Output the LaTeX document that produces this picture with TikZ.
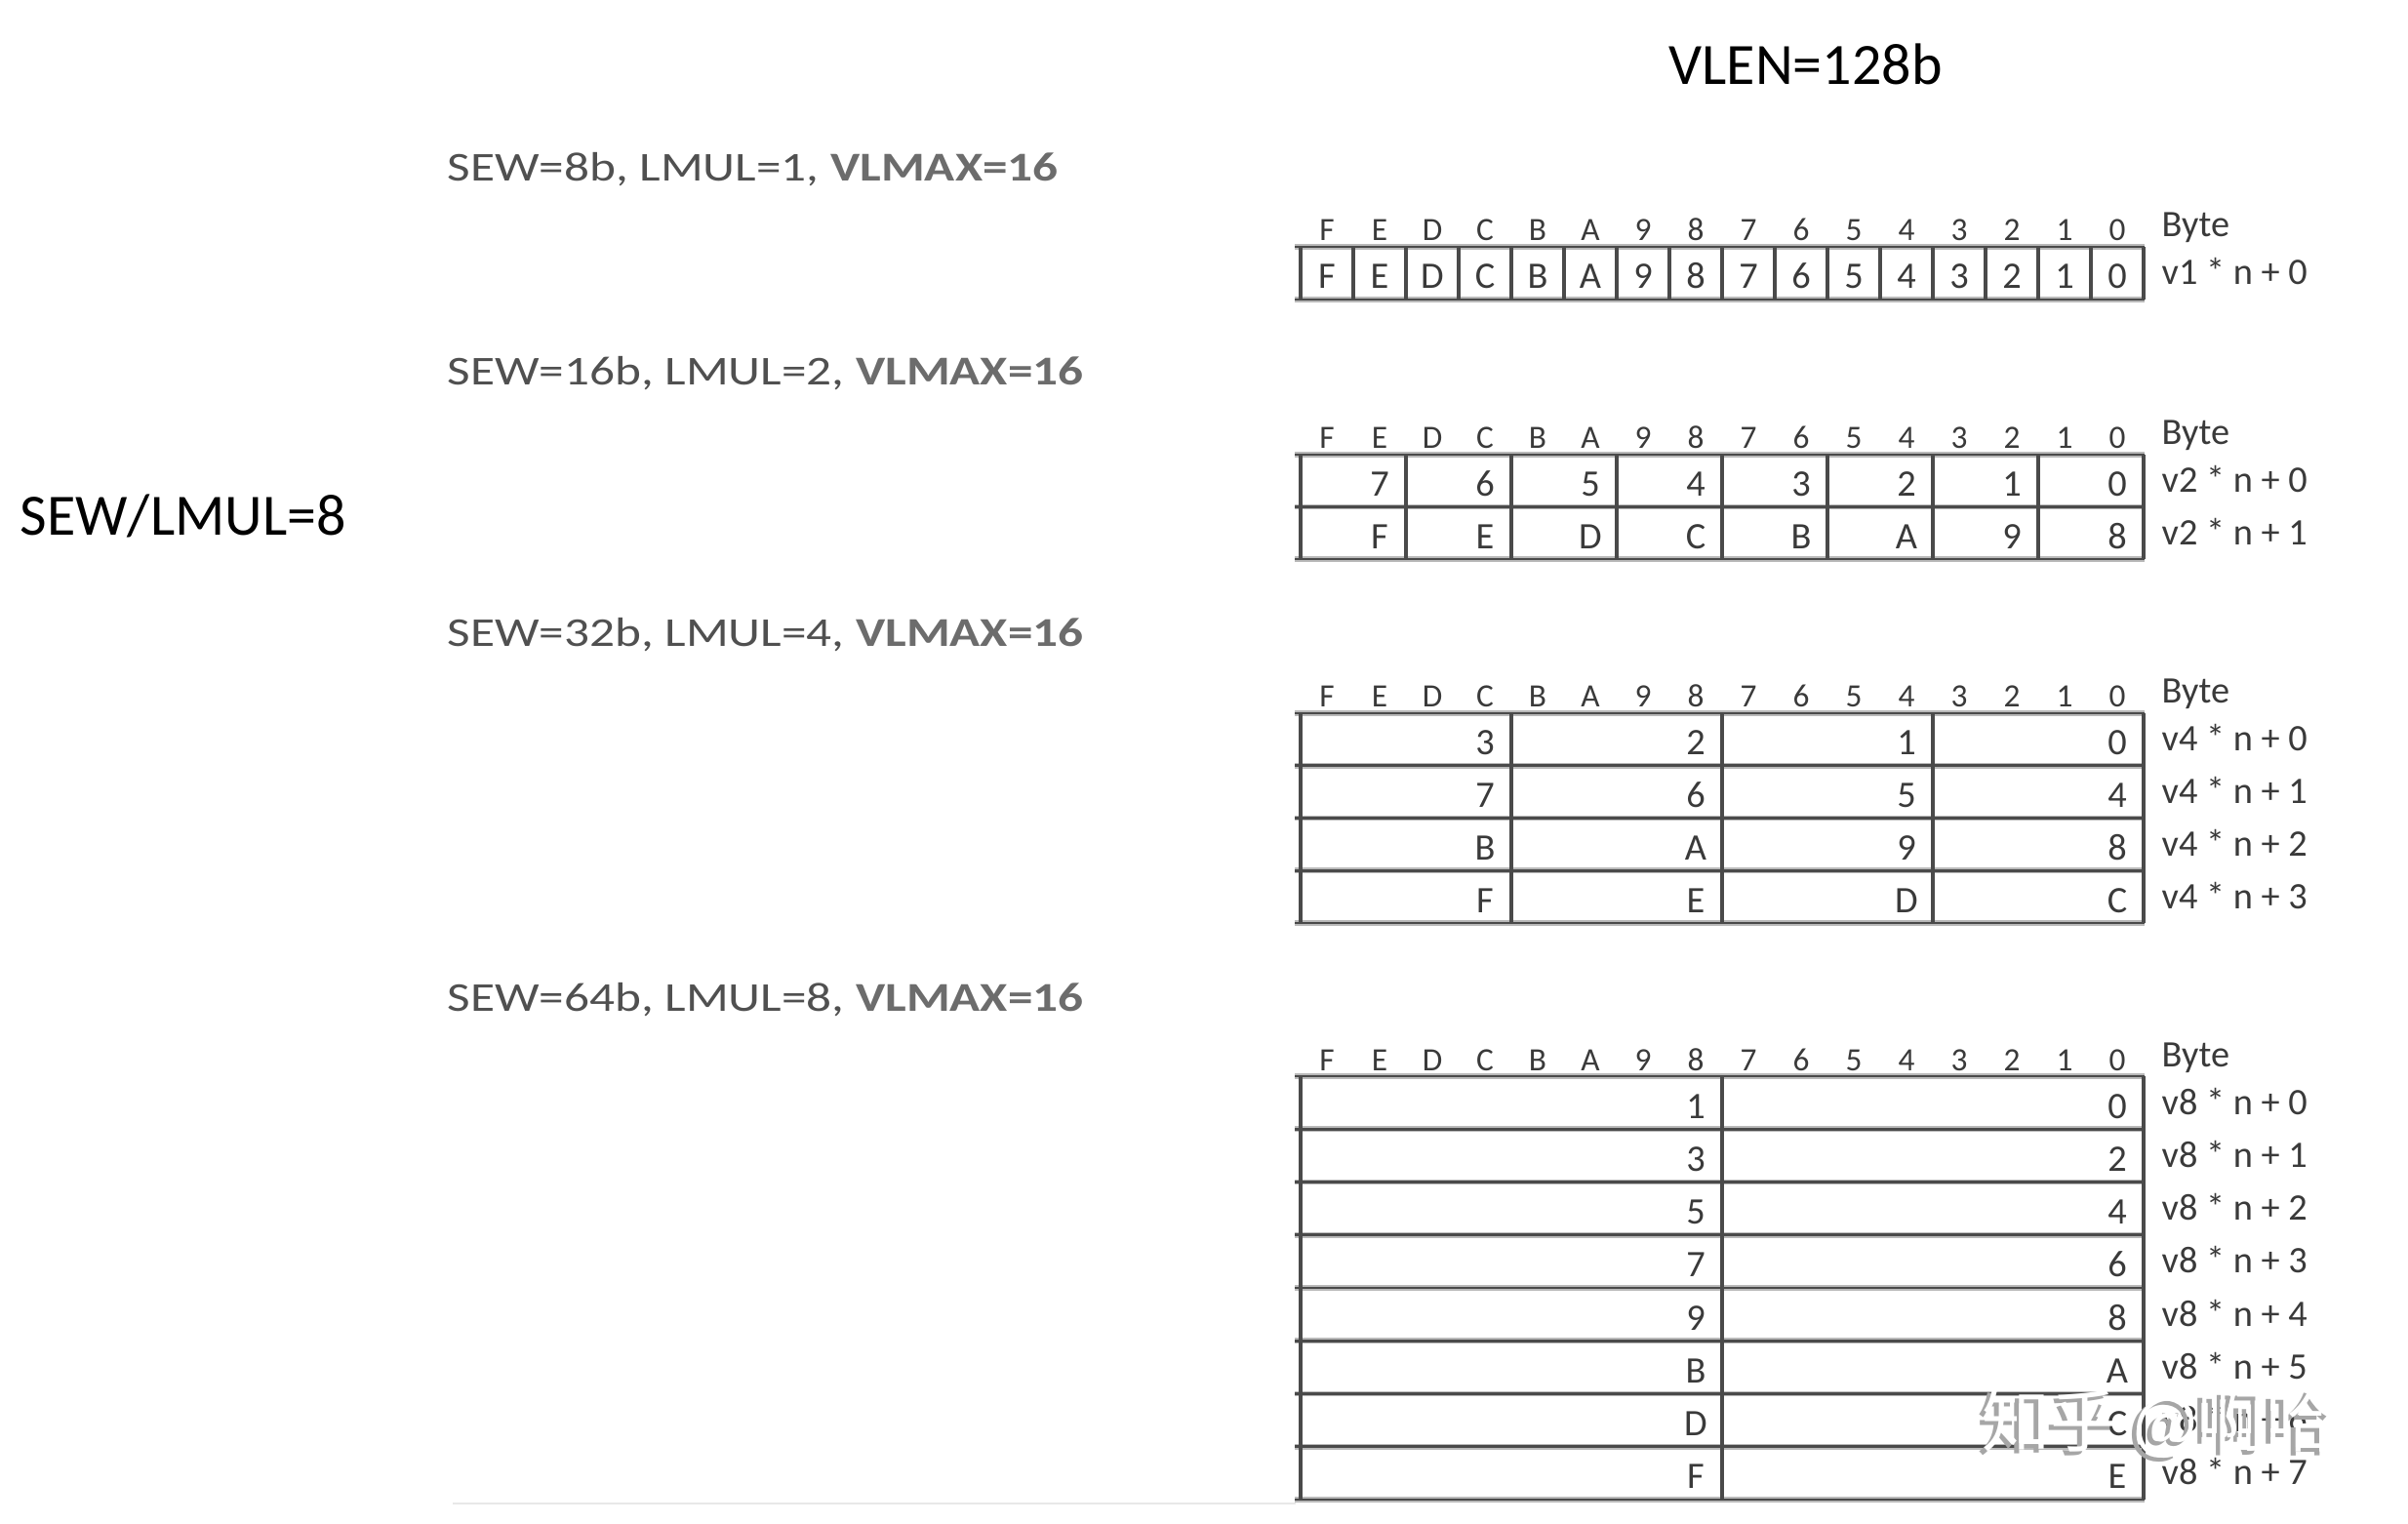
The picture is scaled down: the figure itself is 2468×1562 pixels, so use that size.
\documentclass[tikz,border=0pt]{standalone}
\usepackage{fontspec}
\setmainfont{Carlito}
\newfontfamily\titlefont[FakeStretch=1.22]{Carlito}
\newfontfamily\cjkfont{Noto Sans CJK SC}
\newcommand\hexdig[1]{\ifcase#1 0\or 1\or 2\or 3\or 4\or 5\or 6\or 7\or 8\or 9\or A\or B\or C\or D\or E\or F\fi}
\definecolor{gridc}{HTML}{4A4A4A}
\definecolor{txtc}{HTML}{3A3A3A}
\definecolor{titc}{HTML}{505050}
\definecolor{boldc}{HTML}{6C6C6C}
\tikzset{
  hline/.style={preaction={draw=gray!55,line width=1.7pt}, draw=gridc, line width=0.8pt},
  vline/.style={draw=gridc, line width=0.95pt},
  hdr/.style={anchor=base, inner sep=0pt, text=txtc, font=\fontsize{10}{12}\selectfont},
  cellv/.style={anchor=base, inner sep=0pt, text=txtc, font=\fontsize{11.5}{13}\selectfont},
  lbl/.style={anchor=base west, inner sep=0pt, text=txtc, font=\fontsize{11.5}{13}\selectfont},
  ttl/.style={anchor=west, inner sep=0pt, font=\titlefont\fontsize{12.6}{15}\selectfont},
  big/.style={anchor=west, inner sep=0pt, text=black, font=\fontsize{18}{21}\selectfont}
}
% #1 id, #2 top, #3 row height, #4 rows, #5 bytes per element
\newcommand\bytetable[5]{%
  \pgfmathsetmacro\tTop{#2}%
  \pgfmathsetmacro\tBot{#2+#3*#4}%
  \foreach \by in {0,...,15}{
    \node[hdr] (#1h\by) at ({1333+(15-\by)*54+27},{#2-6}) {\hexdig{\by}};
  }
  \node[lbl] (#1byte) at (2215,{#2-10}) {Byte};
  \foreach \rr in {0,...,#4}{
    \draw[hline] (1327,{#2+\rr*#3}) -- (2198,{#2+\rr*#3});
  }
  \pgfmathtruncatemacro\nel{16/#5}%
  \foreach \kk in {0,...,\nel}{
    \draw[vline] ({1333+\kk*#5*54},\tTop) -- ({1333+\kk*#5*54},\tBot);
  }
  \pgfmathtruncatemacro\lastrow{#4-1}%
  \pgfmathtruncatemacro\lastel{\nel-1}%
  \foreach \rr in {0,...,\lastrow}{
    \foreach \ee in {0,...,\lastel}{
      \pgfmathtruncatemacro\idx{\rr*\nel+\ee}
      \node[cellv] (#1c\idx) at ({1333+(15-\ee*#5)*54+27},{#2+(\rr+0.5)*#3+16}) {\hexdig{\idx}};
    }
    \node[lbl] (#1r\rr) at (2215,{#2+(\rr+0.5)*#3+12}) {v#5 * n + \rr};
  }
}
\begin{document}
\begin{tikzpicture}[x=0.3pt,y=-0.3pt]
\fill[white] (0,0) rectangle (2468,1562);
\useasboundingbox (0,0) rectangle (2468,1562);

\node[big] (vlen) at (1710,66) {VLEN=128b};
\node[big] (ratio) at (20,529) {SEW/LMUL=8};

\node[ttl] (t1) at (458,174) {\textcolor{titc}{SEW=8b, LMUL=1, }\textcolor{boldc}{\bfseries VLMAX=16}};
\node[ttl] (t2) at (458,383) {\textcolor{titc}{SEW=16b, LMUL=2, }\textcolor{boldc}{\bfseries VLMAX=16}};
\node[ttl] (t3) at (458,651) {\textcolor{titc}{SEW=32b, LMUL=4, }\textcolor{boldc}{\bfseries VLMAX=16}};
\node[ttl] (t4) at (458,1025) {\textcolor{titc}{SEW=64b, LMUL=8, }\textcolor{boldc}{\bfseries VLMAX=16}};

\bytetable{a}{253}{54}{1}{1}
\bytetable{b}{466}{53.5}{2}{2}
\bytetable{c}{731}{53.75}{4}{4}
\bytetable{d}{1103}{54.25}{8}{8}

\draw[gray!18, line width=0.6pt] (464,1541) -- (1328,1541);

\node[text=gray!70, font=\cjkfont\fontsize{21}{24}\selectfont, inner sep=0pt] (wm0) at (2207,1463) {知乎 @啊哈};
\node[text=white, font=\cjkfont\fontsize{21}{24}\selectfont, inner sep=0pt] (wm) at (2212,1459) {知乎 @啊哈};
\end{tikzpicture}
\end{document}
